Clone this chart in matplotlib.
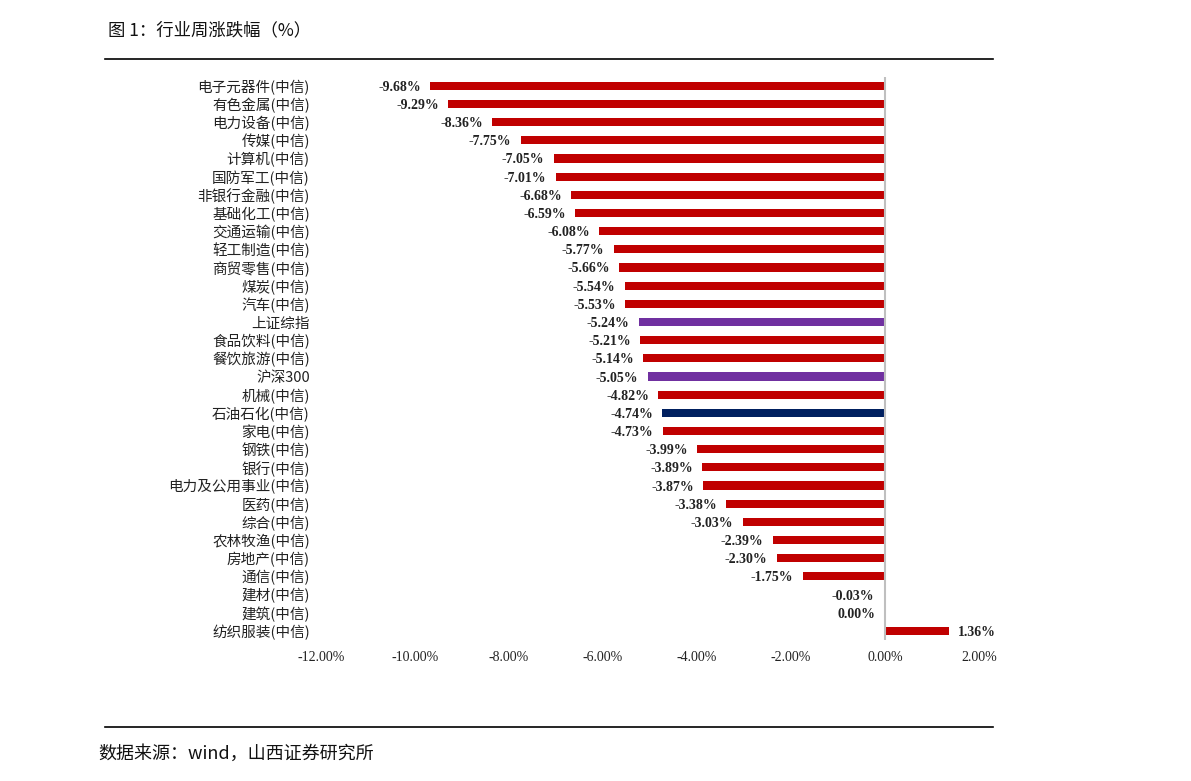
import matplotlib
matplotlib.use("Agg")
import matplotlib.pyplot as plt
from matplotlib.lines import Line2D

categories = ["电子元器件(中信)", "有色金属(中信)", "电力设备(中信)", "传媒(中信)", "计算机(中信)",
              "国防军工(中信)", "非银行金融(中信)", "基础化工(中信)", "交通运输(中信)", "轻工制造(中信)",
              "商贸零售(中信)", "煤炭(中信)", "汽车(中信)", "上证综指", "食品饮料(中信)",
              "餐饮旅游(中信)", "沪深300", "机械(中信)", "石油石化(中信)", "家电(中信)",
              "钢铁(中信)", "银行(中信)", "电力及公用事业(中信)", "医药(中信)", "综合(中信)",
              "农林牧渔(中信)", "房地产(中信)", "通信(中信)", "建材(中信)", "建筑(中信)", "纺织服装(中信)"]
values = [-9.68, -9.29, -8.36, -7.75, -7.05, -7.01, -6.68, -6.59, -6.08, -5.77,
          -5.66, -5.54, -5.53, -5.24, -5.21, -5.14, -5.05, -4.82, -4.74, -4.73,
          -3.99, -3.89, -3.87, -3.38, -3.03, -2.39, -2.30, -1.75, -0.03, 0.00, 1.36]
xticks = [-12, -10, -8, -6, -4, -2, 0, 2]

RED, PURPLE, NAVY = "#C00000", "#7030A0", "#002060"
colors = []
for c in categories:
    if c in ("上证综指", "沪深300"):
        colors.append(PURPLE)
    elif c == "石油石化(中信)":
        colors.append(NAVY)
    else:
        colors.append(RED)

cjk = ["Noto Sans CJK SC", "DejaVu Sans"]
serif = ["Liberation Serif", "DejaVu Serif"]

fig = plt.figure(figsize=(11.91, 7.81), dpi=100)
ax = fig.add_axes([321/1191, 1-640/781, (979-321)/1191, 563.3/781])
y = list(range(len(categories)))
ax.barh(y, values, height=0.45, color=colors, zorder=2)
ax.set_ylim(len(categories)-0.5, -0.5)
ax.set_xlim(-12, 2)
ax.axvline(0, color="#BFBFBF", lw=1.5, zorder=3)
for s in ax.spines.values():
    s.set_visible(False)
ax.set_yticks(y)
ax.set_yticklabels(categories, fontfamily=cjk, fontsize=10.5, color="#222222")
for lab in ax.get_yticklabels():
    lab.set_va("center_baseline")
ax.tick_params(axis="y", length=0, pad=8)
ax.set_xticks(xticks)
ax.set_xticklabels([f"{v:.2f}%" for v in xticks], fontfamily=serif, fontsize=10, color="#222222")
ax.tick_params(axis="x", length=0, pad=8)

for yi, v in zip(y, values):
    if v > 0:
        ax.text(v + 0.2, yi, f"{v:.2f}%", ha="left", va="center_baseline", fontfamily=serif,
                fontsize=10, fontweight="bold", color="#222222")
    else:
        ax.text(v - 0.2, yi, f"{v:.2f}%", ha="right", va="center_baseline", fontfamily=serif,
                fontsize=10, fontweight="bold", color="#222222")

fig.text(108/1191, 1-28/781, "图 1：行业周涨跌幅（%）", fontfamily=cjk, fontsize=12.5,
         ha="left", va="center_baseline", color="#111111")
fig.add_artist(Line2D([105/1191, 993/1191], [1-59/781, 1-59/781], color="black", lw=1.2))
fig.add_artist(Line2D([105/1191, 993/1191], [1-727/781, 1-727/781], color="black", lw=1.2))
fig.text(98/1191, 1-752/781, "数据来源：wind，山西证券研究所", fontfamily=["Noto Sans CJK SC", "Liberation Serif"],
         fontsize=13, ha="left", va="center_baseline", color="#111111")

fig.savefig("out.png", dpi=100)
